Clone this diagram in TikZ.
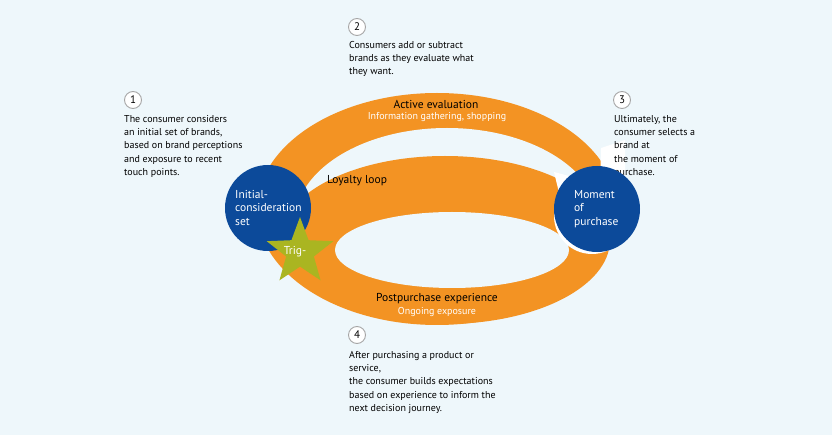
\documentclass[tikz,border=0pt]{standalone}
\usepackage{fontspec}
\setmainfont{PT Sans}
\usetikzlibrary{shapes.geometric}
\definecolor{bg}{HTML}{EEF7FB}
\definecolor{org}{HTML}{F39323}
\definecolor{blu}{HTML}{0C4A9A}
\definecolor{grn}{HTML}{AAB521}
\tikzset{
  num/.style={circle,draw=gray!70,line width=0.9pt,fill=white,minimum size=17pt,inner sep=0pt,font=\fontsize{11}{12}\selectfont},
  desc/.style={anchor=north west,align=left,inner sep=0pt,font=\fontsize{10}{13.3}\selectfont},
  bigc/.style={circle,fill=blu,minimum size=#1,inner sep=0pt},
  lbl/.style={font=\fontsize{11.5}{13}\selectfont},
  sub/.style={font=\fontsize{10}{11}\selectfont,text=white},
  ctext/.style={text=white,align=left,font=\fontsize{11.5}{13.5}\selectfont,anchor=west,inner sep=0pt}
}
\begin{document}
\begin{tikzpicture}[x=1pt,y=-1pt]
\fill[bg] (0,0) rectangle (832,435);
\useasboundingbox (0,0) rectangle (832,435);
% loop bands
\fill[org] (437,209) ellipse [x radius=180,y radius=116];
\fill[bg] (447,222) ellipse [x radius=152,y radius=94];
\fill[org] (445,240) ellipse [x radius=165,y radius=84];
\fill[bg] (452,250) ellipse [x radius=117,y radius=38];
% cut ends near purchase
\fill[white] (601,148) -- (625,140) -- (625,190) -- (600,184) -- cycle;
\fill[white] (554,172) -- (592,182) -- (592,212) -- (561,201) -- cycle;
\fill[white] (592,216) circle [radius=38];
% circles
\node[bigc=86pt] (ics) at (268,208) {};
\node[star,star points=5,star point ratio=2.4,fill=grn,minimum size=70pt,inner sep=0pt] (trig) at (300,252) {};
\node[text=white,font=\fontsize{11.5}{13}\selectfont] at (295,252) {Trig-};
\node[ctext] at (235,208) {Initial-\\consideration\\set};
% band labels
\node[lbl] (ae) at (436,104) {Active evaluation};
\node[sub] (ig) at (437,117) {Information gathering, shopping};
\node[lbl] (ll) at (357,181) {Loyalty loop};
\node[lbl] (pe) at (437,299) {Postpurchase experience};
\node[sub] (oe) at (437,312) {Ongoing exposure};
% numbered notes
\node[num] (n1) at (133,100) {1};
\node[desc] (d1) at (124,115) {The consumer considers\\an initial set of brands,\\based on brand perceptions\\and exposure to recent\\touch points.};
\node[num] (n2) at (357,27) {2};
\node[desc] (d2) at (349,41) {Consumers add or subtract\\brands as they evaluate what\\they want.};
\node[num] (n3) at (622,100) {3};
\node[desc] (d3) at (614,115) {Ultimately, the\\consumer selects a\\brand at\\the moment of\\purchase.};
\node[num] (n4) at (357,335) {4};
\node[desc] (d4) at (349,351) {After purchasing a product or\\service,\\the consumer builds expectations\\based on experience to inform the\\next decision journey.};
\node[bigc=86pt] (mop) at (597,209) {};
\node[ctext] at (574,209) {Moment\\of\\purchase};
\end{tikzpicture}
\end{document}
